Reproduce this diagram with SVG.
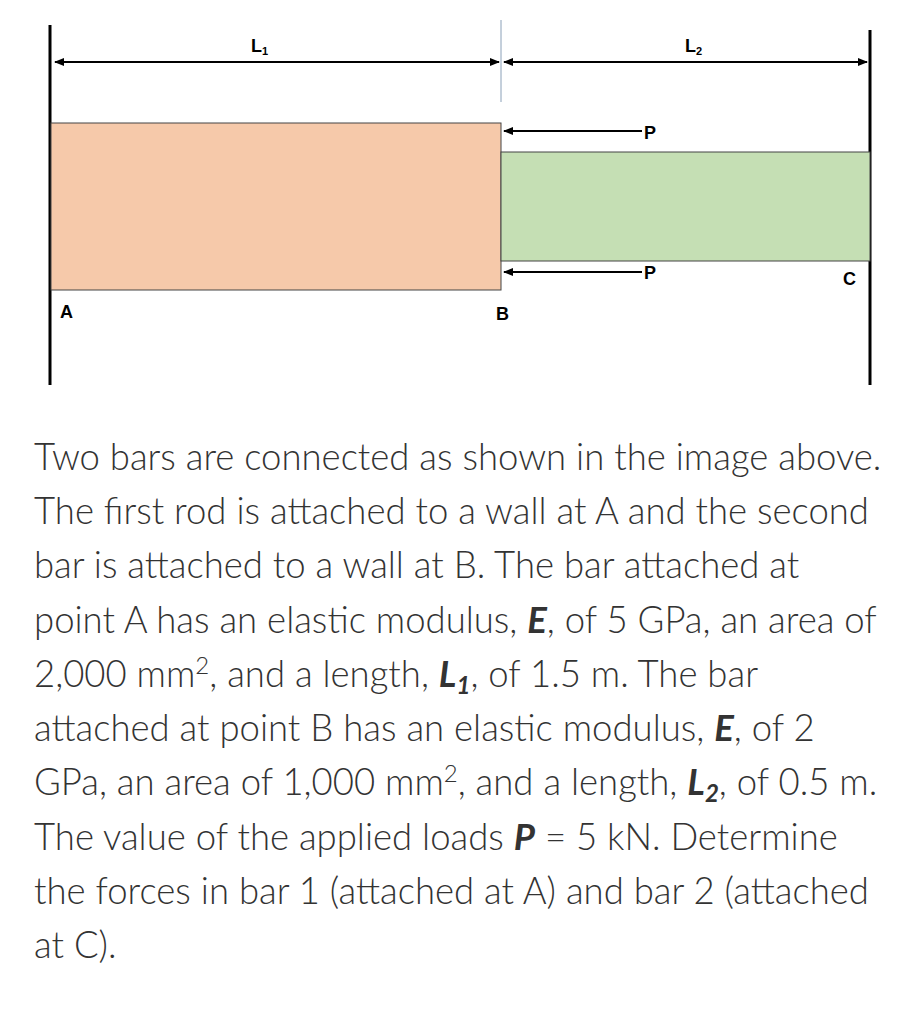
<svg xmlns="http://www.w3.org/2000/svg" width="907" height="1024" viewBox="0 0 907 1024">
<defs>
<marker id="ah" viewBox="0 0 10 10" refX="9" refY="5" markerWidth="5" markerHeight="5" orient="auto-start-reverse"><path d="M0,1 L10,5 L0,9 z" fill="#000"/></marker>
<style>
.wall{stroke:#000;stroke-width:3}
.dim{stroke:#000;stroke-width:2;fill:none}
.lbl{font-family:"Liberation Sans Narrow","Liberation Sans",sans-serif;font-weight:bold;font-size:18px;fill:#000}
.body{font-family:Lato,"Liberation Sans",sans-serif;font-weight:300;font-size:36.5px;fill:#333}
</style>
</defs>
<rect width="907" height="1024" fill="#fff"/>
<g id="walls">
<line class="wall" x1="50" y1="25" x2="50" y2="385"/>
<line class="wall" x1="870" y1="30" x2="870" y2="385"/>
<line x1="501" y1="20" x2="501" y2="102" stroke="#8aa0b8" stroke-width="1"/>
</g>
<g id="bar1"><rect x="51" y="123" width="450" height="167" fill="#f6c9aa" stroke="#444" stroke-width="1"/></g>
<g id="bar2"><rect x="501" y="152" width="369" height="109" fill="#c5dfb4" stroke="#444" stroke-width="1"/></g>
<g id="connectors">
<line class="dim" x1="55" y1="62" x2="499" y2="62" marker-start="url(#ah)" marker-end="url(#ah)"/>
<line class="dim" x1="504" y1="62" x2="867" y2="62" marker-start="url(#ah)" marker-end="url(#ah)"/>
<line class="dim" x1="504" y1="131" x2="642" y2="131" marker-start="url(#ah)"/>
<line class="dim" x1="504" y1="272" x2="642" y2="272" marker-start="url(#ah)"/>
</g>
<g id="labels">
<text class="lbl" x="251" y="52">L<tspan font-size="11" dy="3">1</tspan></text>
<text class="lbl" x="685" y="52">L<tspan font-size="11" dy="3">2</tspan></text>
<text class="lbl" x="644" y="139">P</text>
<text class="lbl" x="644" y="279">P</text>
<text class="lbl" x="843" y="285">C</text>
<text class="lbl" x="60" y="318">A</text>
<text class="lbl" x="496" y="320">B</text>
</g>
<g id="text" class="body">
<text x="34" y="470">Two bars are connected as shown in the image above.</text>
<text x="34" y="524">The first rod is attached to a wall at A and the second</text>
<text x="34" y="578">bar is attached to a wall at B. The bar attached at</text>
<text x="34" y="633">point A has an elastic modulus, <tspan font-weight="bold" font-style="italic">E</tspan>, of 5 GPa, an area of</text>
<text x="34" y="687">2,000 mm<tspan font-size="24" dy="-13">2</tspan><tspan dy="13">, and a length, </tspan><tspan font-weight="bold" font-style="italic">L</tspan><tspan font-weight="bold" font-style="italic" font-size="24" dy="7">1</tspan><tspan dy="-7">, of 1.5 m. The bar</tspan></text>
<text x="34" y="741">attached at point B has an elastic modulus, <tspan font-weight="bold" font-style="italic">E</tspan>, of 2</text>
<text x="34" y="795">GPa, an area of 1,000 mm<tspan font-size="24" dy="-13">2</tspan><tspan dy="13">, and a length, </tspan><tspan font-weight="bold" font-style="italic">L</tspan><tspan font-weight="bold" font-style="italic" font-size="24" dy="7">2</tspan><tspan dy="-7">, of 0.5 m.</tspan></text>
<text x="34" y="850">The value of the applied loads <tspan font-weight="bold" font-style="italic">P</tspan> = 5 kN. Determine</text>
<text x="34" y="904">the forces in bar 1 (attached at A) and bar 2 (attached</text>
<text x="34" y="958">at C).</text>
</g>
</svg>
